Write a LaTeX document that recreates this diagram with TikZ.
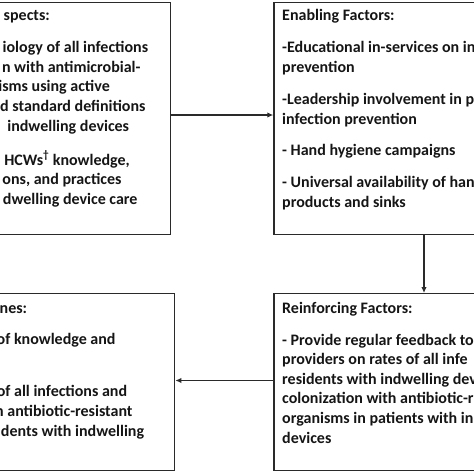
\documentclass[tikz,border=0pt]{standalone}
\usepackage{fontspec}
\setmainfont{Carlito}
\usetikzlibrary{arrows.meta}
\definecolor{ink}{HTML}{151515}
\definecolor{edge}{HTML}{2A2A2A}
\tikzset{
  box/.style={draw=edge, line width=1.4pt, inner sep=0pt, anchor=north west},
  txt/.style={inner sep=0pt, text=ink, font=\bfseries\fontsize{16}{20}\selectfont},
  lt/.style={txt, anchor=base east},
  rt/.style={txt, anchor=base west},
  arr/.style={draw=edge, line width=1.2pt, -{Latex[length=6pt,width=5.5pt]}}
}
\begin{document}
\begin{tikzpicture}[x=1pt,y=-1pt]
\useasboundingbox (0,0) rectangle (474,474);
\clip (0,0) rectangle (474,474);
% boxes
\node[box, minimum width=190pt, minimum height=232pt] (tl) at (-20,1.5) {};
\node[box, minimum width=220pt, minimum height=232pt] (tr) at (273.3,1.5) {};
\node[box, minimum width=220pt, minimum height=177pt] (br) at (273.3,293) {};
\node[box, minimum width=194pt, minimum height=177pt] (bl) at (-20,293) {};
% helper coordinates
\coordinate (r1) at (0,115);
\coordinate (c2) at (424,0);
\coordinate (r3) at (0,380.5);
% connectors
\draw[arr] (tl.east |- r1) -- (tr.west |- r1);
\draw[arr] (tr.south -| c2) -- (br.north -| c2);
\draw[arr] (br.west |- r3) -- (bl.east |- r3);
% top-left texts
\node[lt] (tl1) at (50,20) {spects:};
\node[lt] (tl2) at (148.3,52) {iology of all infections};
\node[lt] (tl3) at (140.7,72) {n with antimicrobial-};
\node[lt] (tl4) at (110,91.7) {isms using active};
\node[lt] (tl5) at (145.7,111.5) {d standard definitions};
\node[lt] (tl6) at (129.3,131) {indwelling devices};
\node[lt] (tl7) at (130,165) {HCWs\textsuperscript{†} knowledge,};
\node[lt] (tl8) at (121.7,184.7) {ons, and practices};
\node[lt] (tl9) at (137.7,204.3) {dwelling device care};
% top-right texts
\node[rt] (tr1) at (282,20) {Enabling Factors:};
\node[rt] (tr2) at (282,52.5) {-Educational in-services on in};
\node[rt] (tr3) at (282,72.5) {prevention};
\node[rt] (tr4) at (282,104) {-Leadership involvement in p};
\node[rt] (tr5) at (282,124) {infection prevention};
\node[rt] (tr6) at (282,155.5) {- Hand hygiene campaigns};
\node[rt] (tr7) at (282,187.5) {- Universal availability of han};
\node[rt] (tr8) at (282,207.5) {products and sinks};
% bottom-right texts
\node[rt] (br1) at (282,313.3) {Reinforcing Factors:};
\node[rt] (br2) at (282,345) {- Provide regular feedback to};
\node[rt] (br3) at (282,364.5) {providers on rates of all infe};
\node[rt] (br4) at (282,384) {residents with indwelling dev};
\node[rt] (br5) at (282,403.5) {colonization with antibiotic-r};
\node[rt] (br6) at (282,423.3) {organisms in patients with in};
\node[rt] (br7) at (282,443.3) {devices};
% bottom-left texts
\node[lt] (bl1) at (27.3,313.3) {nes:};
\node[lt] (bl2) at (115.7,344) {of knowledge and};
\node[lt] (bl3) at (127.3,396.5) {of all infections and};
\node[lt] (bl4) at (132.7,416.5) {n antibiotic-resistant};
\node[lt] (bl5) at (144.3,436.5) {dents with indwelling};
\end{tikzpicture}
\end{document}
